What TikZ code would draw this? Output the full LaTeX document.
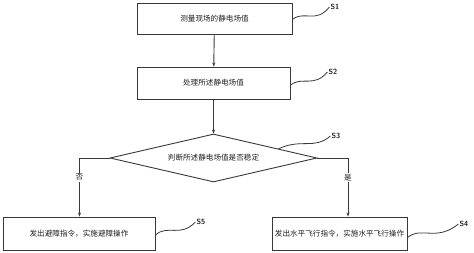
\documentclass[tikz,border=0pt]{standalone}
\usepackage{fontspec}
\newfontfamily\cjk{Noto Sans CJK SC}
\usepackage{tikz}
\usetikzlibrary{arrows.meta, positioning, shapes.geometric, calc}
\definecolor{flowgrey}{HTML}{383838}
\definecolor{flowtext}{HTML}{202020}

\tikzset{
  stepbox/.style={draw=flowgrey, line width=0.9pt, minimum height=31pt, inner sep=0pt,
    font=\cjk\fontsize{7.6}{9}\selectfont, text=flowtext},
  decide/.style={draw=flowgrey, line width=0.9pt, shape=diamond, aspect=4.3, inner sep=0pt,
    minimum width=207pt, minimum height=48pt, font=\cjk\fontsize{7.6}{9}\selectfont, text=flowtext},
  flow/.style={-{Stealth[length=4pt,width=3pt]}, draw=flowgrey, line width=0.9pt},
  tag/.style={font=\sffamily\bfseries\fontsize{7.5}{9}\selectfont, text=flowtext, inner sep=1pt},
  squiggle/.style={draw=flowgrey, line width=0.8pt},
  branch/.style={font=\cjk\fontsize{7.6}{9}\selectfont, text=flowtext, fill=white, inner sep=1pt}
}

\begin{document}
\begin{tikzpicture}[x=1pt, y=-1pt]
      \useasboundingbox (0,0) rectangle (474,253);
      % process steps
      \node[stepbox, minimum width=155pt] (s1box) at (214.5,18.5) {测量现场的静电场值};
      \node[stepbox, minimum width=153pt, minimum height=32pt] (s2box) at (213.5,83) {处理所述静电场值};
      \node[decide] (s3dia) at (213.5,158) {判断所述静电场值是否稳定};
      \node[stepbox, minimum width=152pt, minimum height=33pt] (s5box) at (79,233.5) {发出避障指令，实施避障操作};
      \node[stepbox, minimum width=135pt, minimum height=33pt] (s4box) at (339.5,233.5) {发出水平飞行指令，实施水平飞行操作};
      % step tags
      \node[tag] (s1lab) at (335,7) {S1};
      \node[tag] (s2lab) at (333,72) {S2};
      \node[tag] (s3lab) at (336,136) {S3};
      \node[tag] (s5lab) at (201,222) {S5};
      \node[tag] (s4lab) at (464,224) {S4};
      % connectors
      \draw[flow] (s1box) -- (s2box);
      \draw[flow] (s2box) -- (s3dia);
      \coordinate (nobend) at (79.5,158);
      \coordinate (yesbend) at (348,158);
      \draw[flow] (s3dia.west) -- (nobend) -- (nobend |- s5box.north)
        node[branch, pos=0.33] (nolab) {否};
      \draw[flow] (s3dia.east) -- (yesbend) -- (yesbend |- s4box.north)
        node[branch, pos=0.33] (yeslab) {是};
      % wavy leaders
      \draw[squiggle] (s1box.east) ++(0,1) .. controls (304,10) and (316,24) .. (s1lab.west);
      \draw[squiggle] (s2box.east) ++(0,2) .. controls (302,76) and (314,88) .. (s2lab.west);
      \draw[squiggle] ($(s3dia.north east)!0.25!(s3dia.east)$) .. controls (302,138) and (314,150) .. (s3lab.west);
      \draw[squiggle] (s5box.east) ++(0,1.5) .. controls (168,224) and (180,238) .. (s5lab.west);
      \draw[squiggle] (s4box.east) ++(0,4) .. controls (422,226) and (436,242) .. (s4lab.west);
\end{tikzpicture}
\end{document}
